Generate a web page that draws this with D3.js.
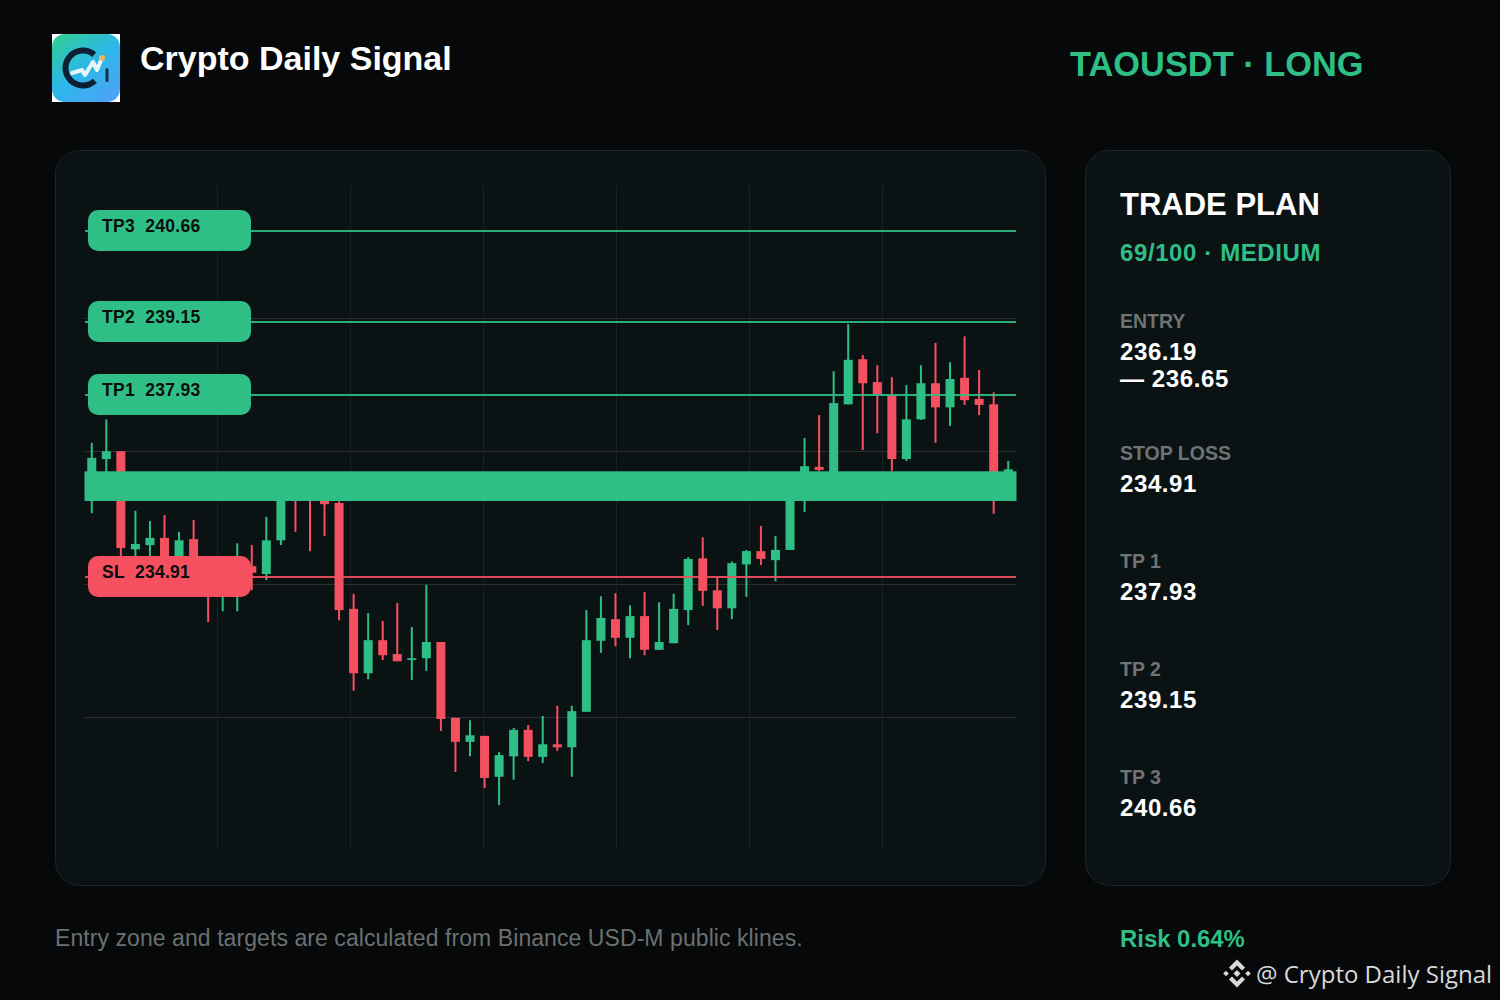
<!DOCTYPE html>
<html>
<head>
<meta charset="utf-8">
<script src="https://cdn.jsdelivr.net/npm/d3@7"></script>
<style>
  html, body { margin: 0; padding: 0; background: #060809; }
  svg { display: block; }
  text { font-family: "Liberation Sans", Arial, sans-serif; white-space: pre; }
</style>
</head>
<body>
<script>
// candle values
var opens = [236.52,236.87,237.00,235.37,235.44,235.56,235.11,235.54,235.19,234.78,234.69,235.09,234.96,235.52,236.52,236.44,
  236.36,236.14,234.38,233.31,233.86,233.63,233.53,233.56,233.83,232.57,232.17,232.27,231.59,231.93,232.37,231.92,
  232.13,232.08,232.67,233.85,234.21,233.90,234.26,233.70,233.81,234.36,235.22,234.69,234.39,235.12,235.34,235.19,
  235.36,236.27,236.74,236.65,237.78,238.53,238.15,237.92,236.87,237.53,238.13,237.73,238.22,237.87,237.78,236.36];
var highs = [237.14,237.53,237.00,236.01,235.84,235.94,235.66,235.86,235.26,235.22,235.47,235.44,235.91,236.60,236.60,236.52,
  236.44,236.17,234.63,234.31,234.18,234.48,234.08,234.78,233.83,232.57,232.53,232.27,232.00,232.40,232.45,232.60,
  232.77,232.77,234.36,234.59,234.64,234.44,234.66,234.49,234.63,235.24,235.57,234.91,235.17,235.36,235.76,235.59,
  236.44,237.22,237.60,238.33,239.11,238.60,238.43,238.23,238.10,238.43,238.80,238.48,238.91,238.35,237.98,236.84];
var lows = [235.97,236.60,235.19,235.19,235.11,235.03,235.03,234.98,234.16,234.34,234.34,234.69,234.86,235.44,235.66,235.34,
  235.59,234.19,233.02,233.21,233.53,233.51,233.20,233.35,232.35,231.67,231.93,231.40,231.12,231.54,231.85,231.82,
  232.02,231.59,232.67,233.65,233.76,233.56,233.61,233.70,233.81,234.11,234.43,234.03,234.21,234.58,235.11,234.84,
  235.36,235.99,236.67,236.60,237.78,237.02,237.30,236.67,236.84,237.52,237.14,237.42,237.77,237.60,235.96,236.27];
var closes = [236.89,237.00,235.39,235.46,235.56,235.11,235.52,235.03,234.69,235.11,235.03,234.98,235.52,236.44,236.27,236.27,
  236.12,234.36,233.31,233.86,233.61,233.51,233.56,233.83,232.55,232.17,232.28,231.57,231.95,232.37,231.92,232.13,
  232.08,232.68,233.86,234.23,233.90,234.26,233.70,233.83,234.38,235.21,234.68,234.39,235.14,235.34,235.21,235.36,
  236.36,236.75,236.69,237.80,238.52,238.13,237.95,236.87,237.53,238.13,237.73,238.20,237.85,237.77,236.52,236.70];

var gridPrices = [239.2, 237.0, 234.79, 232.58];
var gridCandles = [8.64, 17.78, 26.92, 36.06, 45.2, 54.34];

var levelNames = ["TP3", "TP2", "TP1", "SL"];
var levelPrices = [240.66, 239.15, 237.93, 234.91];
var entryLow = 236.19, entryHigh = 236.65;

var planLabels = ["ENTRY", "STOP LOSS", "TP 1", "TP 2", "TP 3"];
var planValues = [["236.19", "— 236.65"], ["234.91"], ["237.93"], ["239.15"], ["240.66"]];

var green = "#2fbf86", red = "#f4505f";

var x = d3.scaleLinear().domain([-0.5, 63.5]).range([84.5, 1015.5]);
var y = d3.scaleLinear().domain([241.425, 230.373]).range([185, 850]);

var svg = d3.select("body").append("svg")
  .attr("width", 1500)
  .attr("height", 1000);

svg.append("rect").attr("width", 1500).attr("height", 1000).attr("fill", "#060809");

// logo
var defs = svg.append("defs");
var grad = defs.append("linearGradient").attr("id", "logoGrad")
  .attr("x1", "0").attr("y1", "0").attr("x2", "0.75").attr("y2", "1");
grad.append("stop").attr("offset", "0").attr("stop-color", "#2fcf8f");
grad.append("stop").attr("offset", "0.55").attr("stop-color", "#2bb8e8");
grad.append("stop").attr("offset", "1").attr("stop-color", "#4aa4f5");

var logo = svg.append("g").attr("transform", "translate(52,34)");
logo.append("rect").attr("width", 68).attr("height", 68).attr("fill", "#fff");
logo.append("rect").attr("width", 68).attr("height", 68).attr("rx", 13).attr("fill", "url(#logoGrad)");
logo.append("path")
  .attr("d", d3.arc().innerRadius(14.5).outerRadius(20.5).startAngle(2.4).endAngle(6.98)())
  .attr("transform", "translate(31,34)")
  .attr("fill", "#0d2033");
logo.append("path")
  .attr("d", "M20,39 L30,36 L33,41 L41,28 L45,36 L50,24")
  .attr("fill", "none").attr("stroke", "#e9f6f6").attr("stroke-width", 4)
  .attr("stroke-linecap", "round").attr("stroke-linejoin", "round");
logo.append("circle").attr("cx", 50).attr("cy", 24).attr("r", 3).attr("fill", "#f2b55a");
logo.append("rect").attr("x", 53.5).attr("y", 34).attr("width", 3).attr("height", 14).attr("rx", 1.5).attr("fill", "#123050");

// header
svg.append("text").attr("x", 140).attr("y", 70)
  .attr("font-size", 34).attr("font-weight", "bold").attr("fill", "#fff")
  .text("Crypto Daily Signal");
svg.append("text").attr("x", 1070).attr("y", 76)
  .attr("font-size", 34.4).attr("font-weight", "bold").attr("fill", green)
  .text("TAOUSDT · LONG");

// panels
svg.append("rect").attr("x", 55.5).attr("y", 150.5).attr("width", 990).attr("height", 735).attr("rx", 24)
  .attr("fill", "#0b1213").attr("stroke", "#1c2527");
svg.append("rect").attr("x", 1085.5).attr("y", 150.5).attr("width", 365).attr("height", 735).attr("rx", 24)
  .attr("fill", "#0b1213").attr("stroke", "#1c2527");

// grid
svg.append("g").selectAll("line").data(gridPrices).enter().append("line")
  .attr("x1", 85).attr("x2", 1016)
  .attr("y1", function (d) { return Math.floor(y(d)) + 0.5; })
  .attr("y2", function (d) { return Math.floor(y(d)) + 0.5; })
  .attr("stroke", "#2a3130").attr("stroke-width", 1);
svg.append("g").selectAll("line").data(gridCandles).enter().append("line")
  .attr("y1", 185).attr("y2", 850)
  .attr("x1", function (d) { return Math.floor(x(d)) + 0.5; })
  .attr("x2", function (d) { return Math.floor(x(d)) + 0.5; })
  .attr("stroke", "#1a2122").attr("stroke-width", 1);

// candles
var candles = svg.append("g").selectAll("g").data(d3.range(opens.length)).enter().append("g");
function candleColor(i) { return closes[i] >= opens[i] ? green : red; }
candles.append("line")
  .attr("x1", function (i) { return x(i); })
  .attr("x2", function (i) { return x(i); })
  .attr("y1", function (i) { return y(highs[i]); })
  .attr("y2", function (i) { return y(lows[i]); })
  .attr("stroke", candleColor).attr("stroke-width", 2);
candles.append("rect")
  .attr("x", function (i) { return x(i) - 4.5; })
  .attr("width", 9)
  .attr("y", function (i) { return y(Math.max(opens[i], closes[i])); })
  .attr("height", function (i) { return Math.max(1.5, Math.abs(y(opens[i]) - y(closes[i]))); })
  .attr("fill", candleColor);

// level lines
svg.append("g").selectAll("line").data(levelPrices).enter().append("line")
  .attr("x1", 85).attr("x2", 1016)
  .attr("y1", function (d) { return Math.round(y(d)); })
  .attr("y2", function (d) { return Math.round(y(d)); })
  .attr("stroke", function (d, i) { return levelNames[i] == "SL" ? red : green; })
  .attr("stroke-width", 2).attr("opacity", 0.9);

// entry zone
svg.append("rect")
  .attr("x", 85.5).attr("width", 930)
  .attr("y", y(entryHigh)).attr("height", y(entryLow) - y(entryHigh))
  .attr("fill", green).attr("stroke", green).attr("stroke-width", 2);

// level labels
var tags = svg.append("g").selectAll("g").data(levelPrices).enter().append("g")
  .attr("transform", function (d) { return "translate(88," + (Math.round(y(d)) - 21) + ")"; });
tags.append("rect")
  .attr("width", 163).attr("height", 41).attr("rx", 10)
  .attr("fill", function (d, i) { return levelNames[i] == "SL" ? red : green; });
tags.append("text")
  .attr("x", 14).attr("y", 22)
  .attr("font-size", 17.5).attr("font-weight", "bold").attr("fill", "#0a0d0e")
  .attr("letter-spacing", 0.28)
  .text(function (d, i) { return levelNames[i] + "  " + d.toFixed(2); });

// trade plan
svg.append("text").attr("x", 1120).attr("y", 215)
  .attr("font-size", 31).attr("font-weight", "bold").attr("fill", "#fff")
  .text("TRADE PLAN");
svg.append("text").attr("x", 1120).attr("y", 261)
  .attr("font-size", 24).attr("font-weight", "bold").attr("fill", green)
  .attr("letter-spacing", 0.6)
  .text("69/100 · MEDIUM");

var rows = svg.append("g").selectAll("g").data(planLabels).enter().append("g")
  .attr("transform", function (d, i) { return "translate(1120," + (i == 0 ? 328 : 460 + (i - 1) * 108) + ")"; });
rows.append("text")
  .attr("font-size", 19.5).attr("font-weight", "bold").attr("fill", "#6e7476")
  .text(function (d) { return d; });
rows.each(function (d, i) {
  d3.select(this).selectAll(".val").data(planValues[i]).enter().append("text")
    .attr("class", "val")
    .attr("y", function (v, j) { return 32 + j * 27; })
    .attr("font-size", 24).attr("font-weight", "bold").attr("fill", "#fff")
    .attr("letter-spacing", 0.6)
    .text(function (v) { return v; });
});

// footer
svg.append("text").attr("x", 55).attr("y", 946)
  .attr("font-size", 23).attr("fill", "#6b7072")
  .attr("letter-spacing", 0.07)
  .text("Entry zone and targets are calculated from Binance USD-M public klines.");
svg.append("text").attr("x", 1120).attr("y", 947)
  .attr("font-size", 23.9).attr("font-weight", "bold").attr("fill", green)
  .text("Risk 0.64%");

// watermark
var mark = svg.append("g").attr("transform", "translate(1237,973.5)").attr("fill", "#d8d8d8");
mark.append("path").attr("d", "M0,-14 L8,-6 L5,-3 L0,-8 L-5,-3 L-8,-6 Z");
mark.append("path").attr("d", "M0,14 L8,6 L5,3 L0,8 L-5,3 L-8,6 Z");
mark.append("rect").attr("x", -2.5).attr("y", -2.5).attr("width", 5).attr("height", 5).attr("transform", "rotate(45)");
mark.append("rect").attr("x", -13).attr("y", -2).attr("width", 4).attr("height", 4).attr("transform", "rotate(45 -11 0)");
mark.append("rect").attr("x", 9).attr("y", -2).attr("width", 4).attr("height", 4).attr("transform", "rotate(45 11 0)");
svg.append("text").attr("x", 1256).attr("y", 983)
  .attr("font-size", 24).attr("fill", "#d8d8d8")
  .style("font-family", "'Open Sans', sans-serif")
  .text("@ Crypto Daily Signal");
</script>
</body>
</html>
